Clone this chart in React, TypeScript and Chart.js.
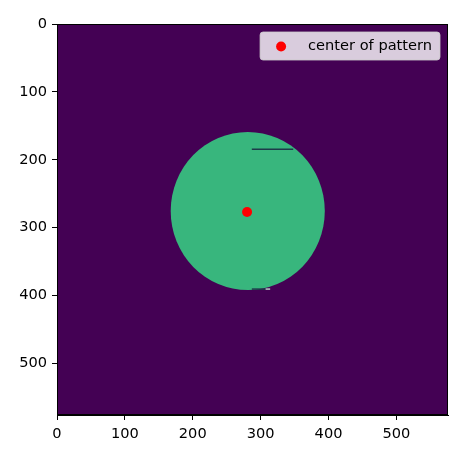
import React, { useEffect, useRef } from "react";
import { Chart, registerables } from "chart.js";

Chart.register(...registerables);

// image extent (pixels)
const imageWidth = [576];
const imageHeight = [576];
const xTicks = [0, 100, 200, 300, 400, 500];
const yTicks = [0, 100, 200, 300, 400, 500];

// the green pattern (ellipse) in image coordinates
const patternCenter = [281, 275.5];
const patternRadii = [113.5, 116.5];

// dark streaks on the pattern
const topStreakX = [287, 348];
const topStreakY = [184.5, 184.5];
const bottomStreakX = [287, 307];
const bottomStreakY = [390.5, 390.5];
const bottomLightX = [307, 314];
const bottomLightY = [390.5, 390.5];

// detected centre
const centerLabel = "center of pattern";
const centerX = [280];
const centerY = [277];

const BG = "#440154";
const GREEN = "#38b67d";
const FONT = "'DejaVu Sans', sans-serif";
const FS = 14.6;

export default function App() {
  const ref = useRef<HTMLCanvasElement | null>(null);

  useEffect(() => {
    document.body.style.margin = "0";
    const canvas = ref.current;
    if (!canvas) return;

    const imagePlugin = {
      id: "imagePlugin",
      beforeDatasetsDraw(chart: any) {
        const { ctx, chartArea, scales } = chart;
        const xs = scales.x;
        const ys = scales.y;
        ctx.save();
        ctx.fillStyle = BG;
        ctx.fillRect(chartArea.left, chartArea.top, chartArea.right - chartArea.left, chartArea.bottom - chartArea.top);
        const cx = xs.getPixelForValue(patternCenter[0]);
        const cy = ys.getPixelForValue(patternCenter[1]);
        const rx = Math.abs(xs.getPixelForValue(patternCenter[0] + patternRadii[0]) - cx);
        const ry = Math.abs(ys.getPixelForValue(patternCenter[1] + patternRadii[1]) - cy);
        ctx.beginPath();
        ctx.ellipse(cx, cy, rx, ry, 0, 0, Math.PI * 2);
        ctx.fillStyle = GREEN;
        ctx.fill();
        ctx.restore();
      },
      afterDraw(chart: any) {
        const { ctx, chartArea } = chart;
        ctx.save();
        // frame
        ctx.strokeStyle = "#000";
        ctx.lineWidth = 1;
        ctx.strokeRect(
          Math.round(chartArea.left) + 0.5,
          Math.round(chartArea.top) + 0.5,
          Math.round(chartArea.right - chartArea.left) - 1,
          Math.round(chartArea.bottom - chartArea.top) - 1
        );
        // legend
        ctx.font = `${FS}px ${FONT}`;
        const tw = ctx.measureText(centerLabel).width;
        const boxRight = chartArea.right - 8;
        const boxTop = chartArea.top + 8;
        const boxH = 28;
        const boxW = tw + 56;
        const boxLeft = boxRight - boxW;
        const r = 3;
        ctx.beginPath();
        ctx.moveTo(boxLeft + r, boxTop);
        ctx.lineTo(boxRight - r, boxTop);
        ctx.quadraticCurveTo(boxRight, boxTop, boxRight, boxTop + r);
        ctx.lineTo(boxRight, boxTop + boxH - r);
        ctx.quadraticCurveTo(boxRight, boxTop + boxH, boxRight - r, boxTop + boxH);
        ctx.lineTo(boxLeft + r, boxTop + boxH);
        ctx.quadraticCurveTo(boxLeft, boxTop + boxH, boxLeft, boxTop + boxH - r);
        ctx.lineTo(boxLeft, boxTop + r);
        ctx.quadraticCurveTo(boxLeft, boxTop, boxLeft + r, boxTop);
        ctx.closePath();
        ctx.fillStyle = "rgba(255,255,255,0.8)";
        ctx.fill();
        ctx.strokeStyle = "rgba(204,204,204,0.8)";
        ctx.stroke();
        ctx.beginPath();
        ctx.arc(boxLeft + 21, boxTop + boxH / 2 + 0.5, 5, 0, Math.PI * 2);
        ctx.fillStyle = "#ff0000";
        ctx.fill();
        ctx.fillStyle = "#000";
        ctx.textBaseline = "middle";
        ctx.textAlign = "left";
        ctx.fillText(centerLabel, boxLeft + 48, boxTop + boxH / 2);
        ctx.restore();
      },
    };

    const toPts = (xs: number[], ys: number[]) => xs.map((x, i) => ({ x, y: ys[i] }));

    const chart = new Chart(canvas, {
      type: "scatter",
      data: {
        datasets: [
          {
            type: "line",
            label: "top streak",
            data: toPts(topStreakX, topStreakY),
            borderColor: "#1d3b4a",
            borderWidth: 1.5,
            pointRadius: 0,
          },
          {
            type: "line",
            label: "bottom streak",
            data: toPts(bottomStreakX, bottomStreakY),
            borderColor: "#1d3b4a",
            borderWidth: 1.5,
            pointRadius: 0,
          },
          {
            type: "line",
            label: "bottom light",
            data: toPts(bottomLightX, bottomLightY),
            borderColor: "#b9c8c6",
            borderWidth: 1.5,
            pointRadius: 0,
          },
          {
            label: centerLabel,
            data: toPts(centerX, centerY),
            backgroundColor: "#ff0000",
            borderWidth: 0,
            pointRadius: 5,
          } as any,
        ],
      },
      options: {
        animation: false,
        responsive: false,
        maintainAspectRatio: false,
        layout: { padding: { left: 0, top: 24, right: 26, bottom: 0 } },
        plugins: { legend: { display: false }, tooltip: { enabled: false } },
        scales: {
          x: {
            type: "linear",
            min: 0,
            max: imageWidth[0],
            afterBuildTicks: (s: any) => {
              s.ticks = xTicks.map((v) => ({ value: v }));
            },
            afterFit: (s: any) => {
              s.height = 34;
            },
            grid: { drawOnChartArea: false, drawTicks: true, tickLength: 5, color: "#000" },
            border: { display: true, color: "#000" },
            ticks: { color: "#000", font: { family: FONT, size: FS }, padding: 5, maxRotation: 0 },
          },
          y: {
            type: "linear",
            reverse: true,
            min: 0,
            max: imageHeight[0],
            afterBuildTicks: (s: any) => {
              s.ticks = yTicks.map((v) => ({ value: v }));
            },
            afterFit: (s: any) => {
              s.width = 57;
            },
            grid: { drawOnChartArea: false, drawTicks: true, tickLength: 5, color: "#000" },
            border: { display: true, color: "#000" },
            ticks: { color: "#000", font: { family: FONT, size: FS }, padding: 5 },
          },
        },
      },
      plugins: [imagePlugin],
    });
    return () => chart.destroy();
  }, []);

  return (
    <div style={{ width: 474, height: 449, background: "#fff" }}>
      <canvas ref={ref} width={474} height={449} style={{ display: "block" }} />
    </div>
  );
}
